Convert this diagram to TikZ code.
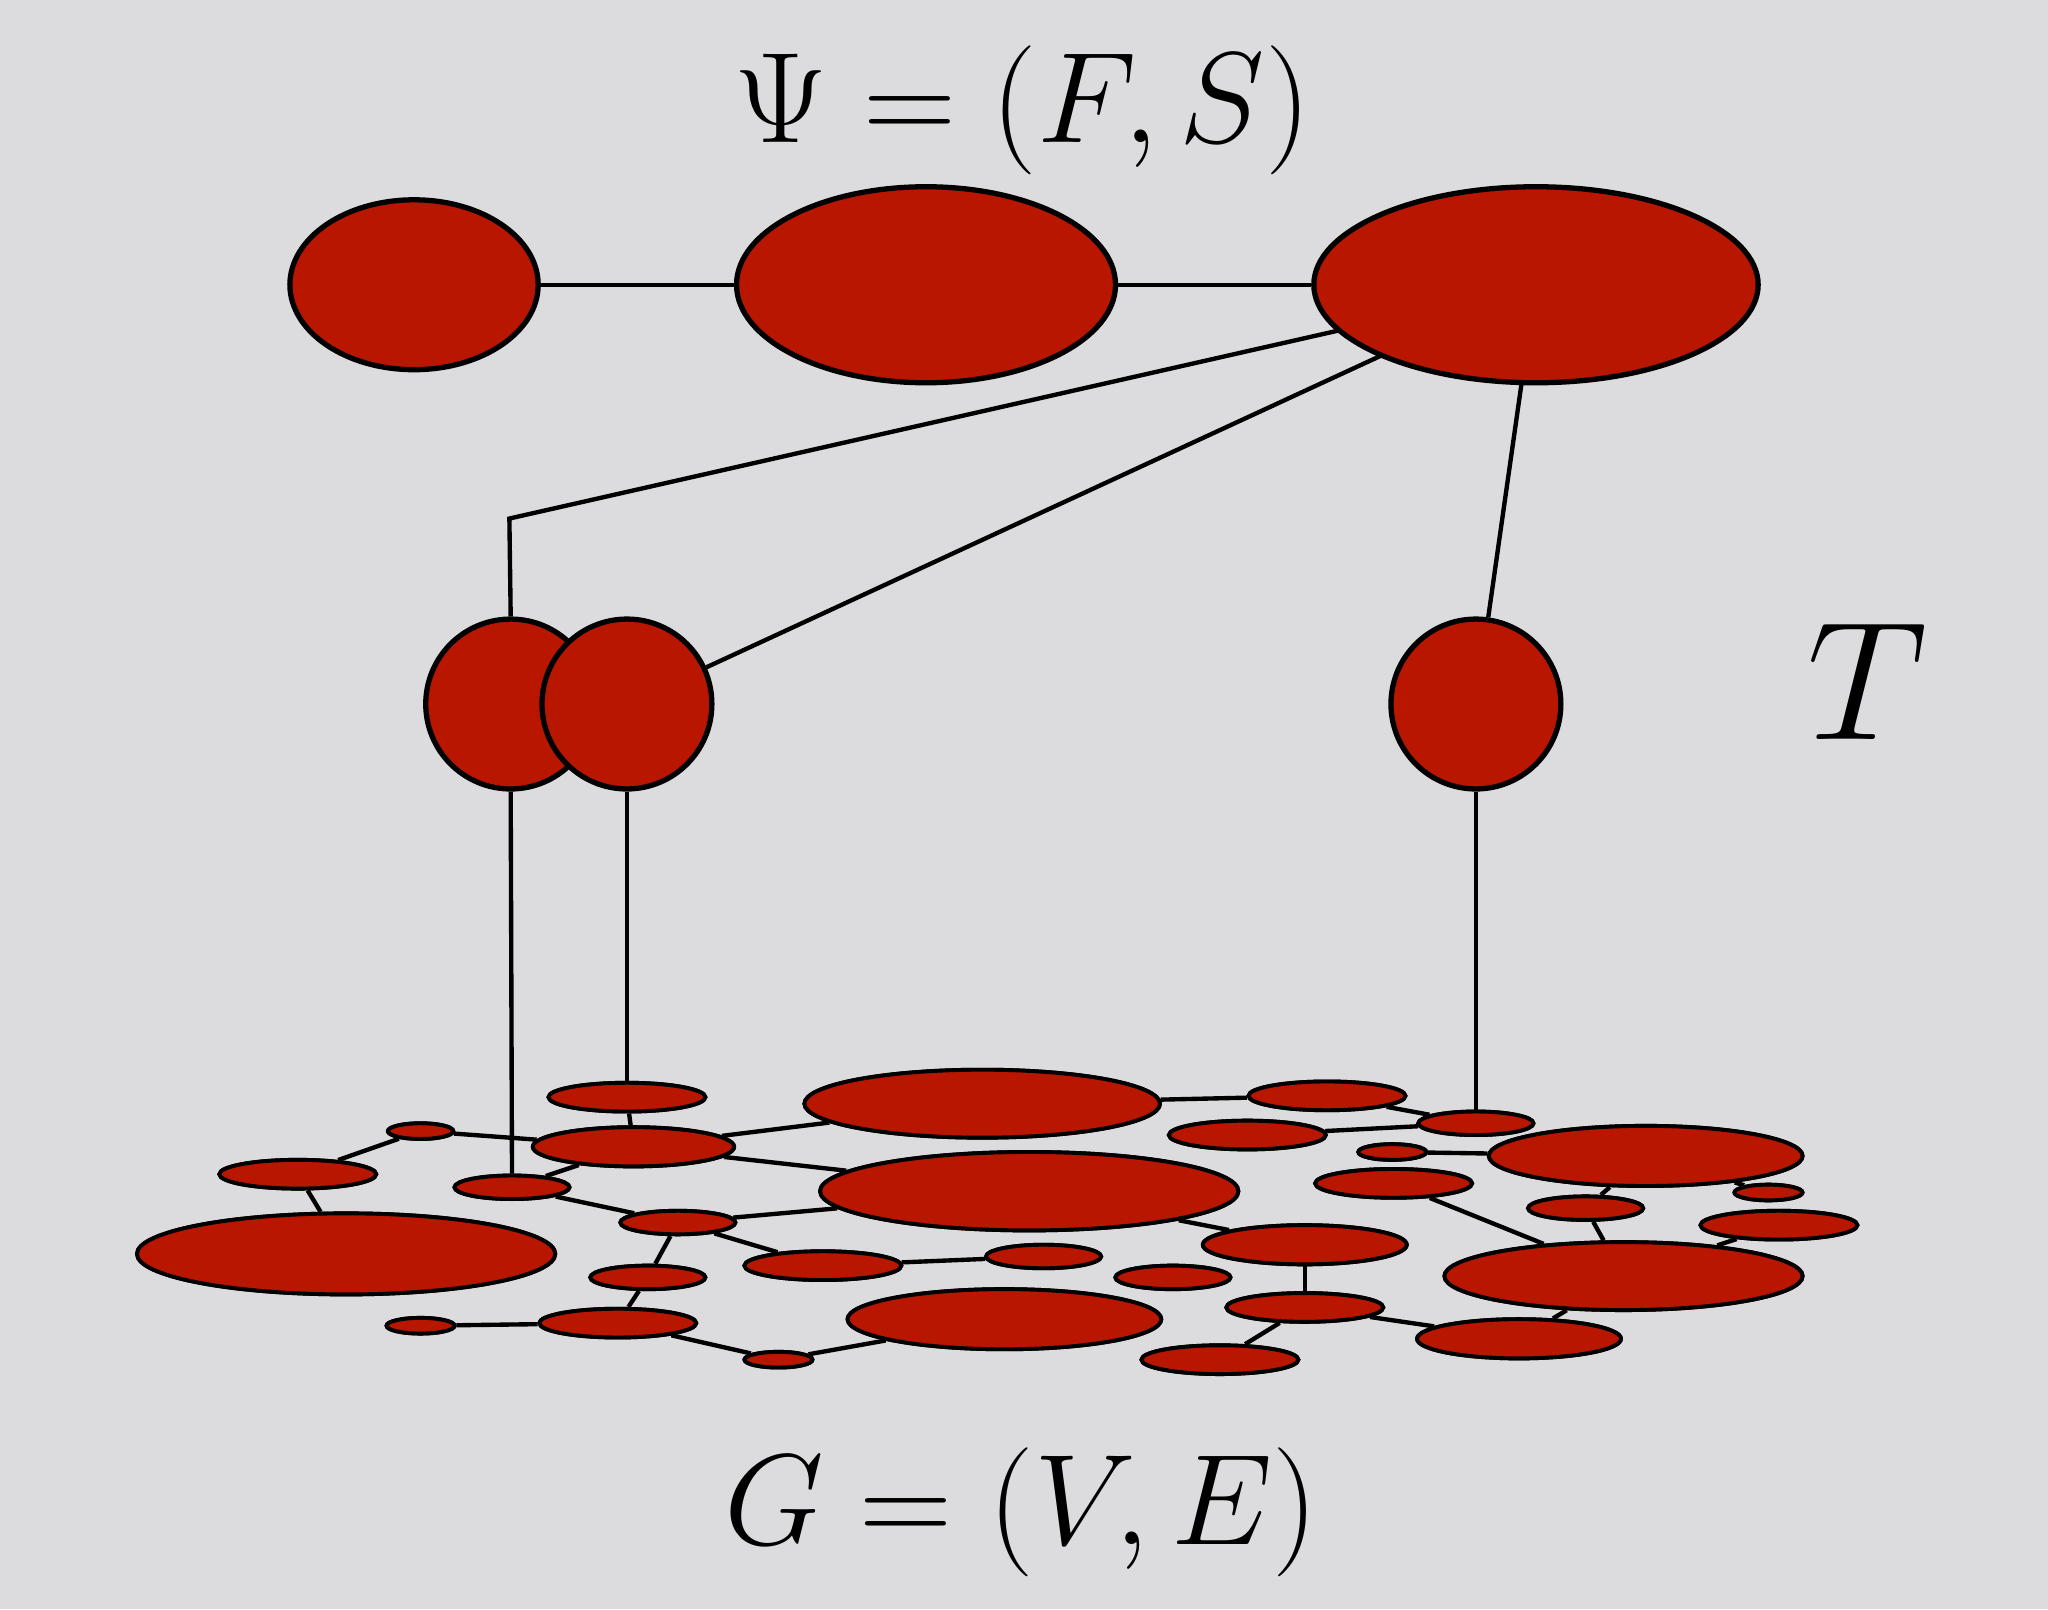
\documentclass[tikz,border=0pt]{standalone}
\usetikzlibrary{shapes.geometric}
\definecolor{bg}{HTML}{DCDCDE}
\definecolor{rd}{HTML}{B91600}
\begin{document}
\begin{tikzpicture}[x=0.01cm,y=-0.01cm,
  el/.style={ellipse,draw=black,fill=rd,inner sep=0pt,line width=0.85pt},
  big/.style={line width=1.15pt},
  edge/.style={line width=0.95pt}]
\fill[bg] (0,0) rectangle (1568,1232);
\useasboundingbox (0,0) rectangle (1568,1232);
\newcommand{\E}[5]{\node[el,minimum width=#4*0.02cm,minimum height=#5*0.02cm] (#1) at (#2,#3) {};}
\newcommand{\allnodes}{%
\E{n1}{480}{840}{60}{11}
\E{n2}{752}{845}{136}{26}
\E{n3}{1016}{839}{60}{11}
\E{n4}{322}{866}{25}{6}
\E{n5}{485}{878}{77}{15}
\E{n6}{955}{869}{60}{11}
\E{n7}{1130}{860}{44}{9}
\E{n8}{1066}{882}{26}{6}
\E{n9}{1260}{885}{120}{23}
\E{n10}{228}{899}{60}{11}
\E{n11}{392}{909}{44}{9}
\E{n12}{788}{912}{160}{30}
\E{n13}{1067}{906}{60}{11}
\E{n14}{1354}{913}{26}{6}
\E{n15}{1214}{925}{44}{9}
\E{n16}{519}{936}{44}{9}
\E{n17}{265}{960}{160}{31}
\E{n18}{1362}{938}{60}{11}
\E{n19}{999}{953}{78}{15}
\E{n20}{630}{969}{60}{11}
\E{n21}{799}{962}{44}{9}
\E{n22}{898}{978}{44}{9}
\E{n23}{1243}{977}{137}{26}
\E{n24}{496}{978}{44}{9}
\E{n25}{769}{1010}{120}{23}
\E{n26}{999}{1001}{60}{11}
\E{n27}{322}{1015}{26}{6}
\E{n28}{473}{1013}{60}{11}
\E{n29}{1163}{1025}{78}{15}
\E{n30}{596}{1041}{26}{6}
\E{n31}{934}{1041}{60}{11}}
\allnodes
\foreach \a/\b in {n4/n5,n4/n10,n10/n17,n1/n5,n5/n2,n2/n3,n5/n11,n5/n12,n11/n16,n16/n12,n16/n20,n16/n24,n20/n21,n24/n28,n27/n28,n28/n30,n30/n25,n6/n7,n7/n3,n8/n9,n9/n15,n15/n23,n9/n14,n13/n23,n12/n19,n19/n26,n26/n31,n26/n29,n29/n23,n23/n18}
  \draw[edge] (\a) -- (\b);
\allnodes
% top
\node[el,big,minimum width=1.9cm,minimum height=1.3cm] (A) at (317,218) {};
\node[el,big,minimum width=2.9cm,minimum height=1.5cm] (B) at (709,218) {};
\node[el,big,minimum width=3.4cm,minimum height=1.5cm] (C) at (1176,218) {};
\draw[edge] (A) -- (B);
\draw[edge] (B) -- (C);
\coordinate (k) at (390,397);
\coordinate (c1) at (1025,253);
\coordinate (c2) at (1058,272);
\coordinate (c3) at (1165,293);
\node[circle,draw,fill=rd,big,minimum size=1.3cm,inner sep=0pt] (L1) at (391,539) {};
\node[circle,draw,fill=rd,big,minimum size=1.3cm,inner sep=0pt] (L2) at (480,539) {};
\node[circle,draw,fill=rd,big,minimum size=1.3cm,inner sep=0pt] (R) at (1130,539) {};
\draw[edge] (c1) -- (k) -- (L1.north);
\draw[edge] (c2) -- (L2);
\draw[edge] (c3) -- (R);
\draw[edge] (L1.south) -- (n11.north);
\draw[edge] (L2.south) -- (n1.north);
\draw[edge] (R.south) -- (n7.north);
\node[scale=1.13,transform shape] (psi) at (783,84) {\fontsize{24.88}{30}\selectfont$\Psi=(F,S)$};
\node[scale=1.48,transform shape] (T) at (1430,522) {\fontsize{24.88}{30}\selectfont$T$};
\node[scale=1.13,transform shape] (G) at (782,1158) {\fontsize{24.88}{30}\selectfont$G=(V,E)$};
\end{tikzpicture}
\end{document}
